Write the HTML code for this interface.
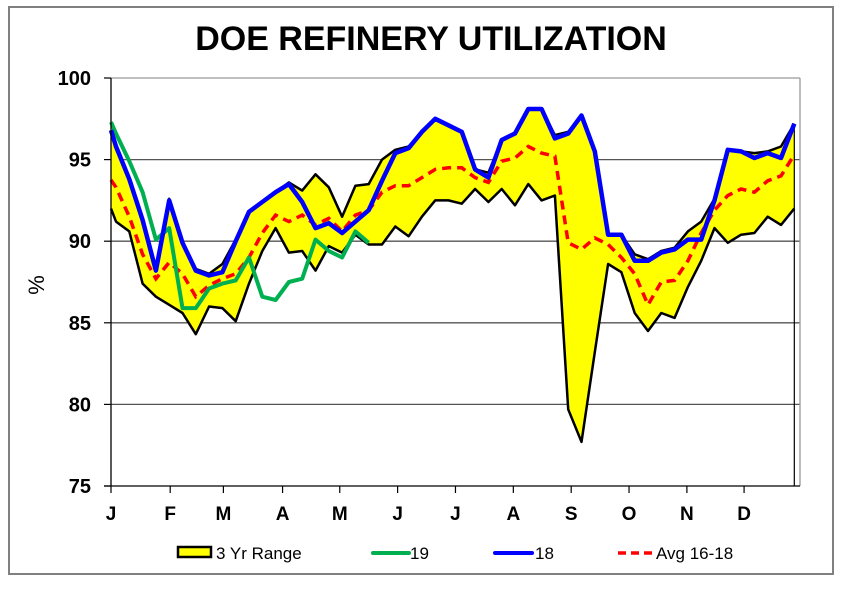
<!DOCTYPE html>
<html><head><meta charset="utf-8"><style>
body{margin:0;background:#fff;}
svg{display:block;font-family:"Liberation Sans",Arial,sans-serif;}
</style></head><body>
<svg width="850" height="591" viewBox="0 0 850 591">
<rect x="9" y="7" width="824" height="567" fill="#fff" stroke="#808080" stroke-width="2"/>
<text x="431" y="50" text-anchor="middle" font-size="34" font-weight="bold">DOE REFINERY UTILIZATION</text>
<text transform="translate(44,285) rotate(-90)" text-anchor="middle" font-size="22">%</text>
<g id="grid"></g>
<g id="plot"></g>
<g id="axes"></g>
<g>
 <rect x="178" y="547" width="33" height="10" fill="#ffff00" stroke="#000" stroke-width="2.5"/>
 <text x="216" y="559" font-size="17">3 Yr Range</text>
 <line x1="373" y1="553" x2="409" y2="553" stroke="#00b050" stroke-width="4" stroke-linecap="round"/>
 <text x="410" y="559" font-size="17">19</text>
 <line x1="495" y1="553" x2="532" y2="553" stroke="#0000ff" stroke-width="4" stroke-linecap="round"/>
 <text x="535" y="559" font-size="17">18</text>
 <line x1="618" y1="553" x2="654" y2="553" stroke="#ff0000" stroke-width="3.5" stroke-dasharray="8,5"/>
 <text x="656" y="559" font-size="17">Avg 16-18</text>
</g>
</svg>
<script>
const months = ["J","F","M","A","M","J","J","A","S","O","N","D"];
const monthTickWeeks = [0,4.45,8.45,12.9,17.2,21.55,25.9,30.25,34.6,38.95,43.3,47.6];
const yTicks = [75,80,85,90,95,100];
const rangeLow = [92.0,91.2,90.6,87.4,86.6,86.1,85.6,84.3,86.0,85.9,85.1,87.4,89.4,90.8,89.3,89.4,88.2,89.7,89.3,90.4,89.8,89.8,90.9,90.3,91.5,92.5,92.5,92.3,93.2,92.4,93.2,92.2,93.5,92.5,92.8,79.7,77.7,83.2,88.6,88.1,85.6,84.5,85.6,85.3,87.2,88.8,90.8,89.9,90.4,90.5,91.5,91.0,92.0];
const rangeHigh = [96.8,95.8,93.8,91.4,88.3,92.6,89.9,88.3,88.0,88.6,90.1,91.8,92.4,93.0,93.6,93.1,94.1,93.3,91.5,93.4,93.5,95.0,95.6,95.8,96.7,97.5,97.1,96.7,94.4,94.2,96.2,96.6,98.1,98.1,96.5,96.7,97.7,95.5,90.4,90.4,89.2,88.9,89.4,89.6,90.6,91.2,92.6,95.6,95.5,95.4,95.5,95.8,97.2];
const series19 = [97.3,96.6,94.9,93.0,90.1,90.8,85.9,85.9,87.1,87.4,87.6,89.0,86.6,86.4,87.5,87.7,90.1,89.4,89.0,90.6,89.9];
const series18 = [96.8,95.8,93.8,91.3,88.2,92.5,89.9,88.2,87.9,88.1,90.0,91.8,92.4,93.0,93.5,92.4,90.8,91.1,90.5,91.2,91.9,93.7,95.4,95.7,96.7,97.5,97.1,96.7,94.4,93.9,96.2,96.6,98.1,98.1,96.3,96.6,97.7,95.5,90.4,90.4,88.8,88.8,89.3,89.5,90.1,90.1,92.5,95.6,95.5,95.1,95.4,95.1,97.2];
const seriesAvg = [93.75,93.3,91.5,89.2,87.7,88.7,88.0,86.6,87.3,87.7,88.0,89.0,90.5,91.6,91.2,91.6,91.0,91.4,90.6,91.6,91.9,93.0,93.4,93.4,93.9,94.4,94.5,94.5,93.9,93.6,94.9,95.1,95.8,95.4,95.2,89.9,89.5,90.2,89.8,89.0,88.0,86.1,87.5,87.6,88.8,90.5,91.9,92.8,93.2,93.0,93.7,94.0,95.3];

const NS="http://www.w3.org/2000/svg";
const X0=111, X1=800, Y0=486, Y100=78;
function yScale(v){return Y0-(v-75)*(Y0-Y100)/25;}
function xPos(i){return i===0?111:116+13.3*(i-1);}
function xWeek(w){return 111+w*13.3;}
function mk(tag,attrs,parent){const e=document.createElementNS(NS,tag);for(const k in attrs)e.setAttribute(k,attrs[k]);parent.appendChild(e);return e;}
const grid=document.getElementById('grid'),plot=document.getElementById('plot'),axes=document.getElementById('axes');

yTicks.forEach(v=>{
 const y=yScale(v);
 if(v>75){const l=mk('line',{x1:X0,x2:X1,y1:y,y2:y,stroke:v===100?'#999':'#555','stroke-width':1.3},grid);
 
 }
 const t=mk('text',{x:91,y:y+7,'text-anchor':'end','font-size':20,'font-weight':'bold'},axes);
 t.textContent=v;
 
 
 const tk=mk('line',{x1:104,x2:X0,y1:y,y2:y,stroke:'#000','stroke-width':1.2},axes);
 
 
});
const rb=mk('line',{x1:X1,x2:X1,y1:Y100,y2:Y0,stroke:'#999','stroke-width':1.3},grid);



function pts(arr){return arr.map((v,i)=>xPos(i).toFixed(1)+','+yScale(v).toFixed(1));}
const poly=pts(rangeHigh).concat(pts(rangeLow).reverse()).join(' ');
const area=mk('polygon',{points:poly,fill:'#ffff00',stroke:'none'},plot);


const hl=mk('polyline',{points:pts(rangeHigh).join(' '),fill:'none',stroke:'#000','stroke-width':2.5,'stroke-linejoin':'round'},plot);


const ll=mk('polyline',{points:pts(rangeLow).join(' '),fill:'none',stroke:'#000','stroke-width':2.5,'stroke-linejoin':'round'},plot);


const n=rangeLow.length-1;
const el=mk('line',{x1:xPos(n),x2:xPos(n),y1:yScale(rangeHigh[n]),y2:Y0,stroke:'#000','stroke-width':1.2},plot);


const av=mk('polyline',{points:pts(seriesAvg).join(' '),fill:'none',stroke:'#ff0000','stroke-width':3.5,'stroke-dasharray':'9,6'},plot);


const g19=mk('polyline',{points:pts(series19).join(' '),fill:'none',stroke:'#00b050','stroke-width':4,'stroke-linejoin':'round'},plot);


const b18=mk('polyline',{points:pts(series18).join(' '),fill:'none',stroke:'#0000ff','stroke-width':4.5,'stroke-linejoin':'round'},plot);



const ya=mk('line',{x1:X0,x2:X0,y1:Y100,y2:Y0,stroke:'#000','stroke-width':1.3},axes);


const xa=mk('line',{x1:104,x2:X1,y1:Y0,y2:Y0,stroke:'#000','stroke-width':1.3},axes);


months.forEach((m,i)=>{
 const x=xWeek(monthTickWeeks[i]);
 const tk=mk('line',{x1:x,x2:x,y1:Y0,y2:Y0+7,stroke:'#000','stroke-width':1.2},axes);
 
 
 const t=mk('text',{x:x,y:Y0+34,'text-anchor':'middle','font-size':19,'font-weight':'bold'},axes);
 t.textContent=m;
 
 
});
</script>
</body></html>
